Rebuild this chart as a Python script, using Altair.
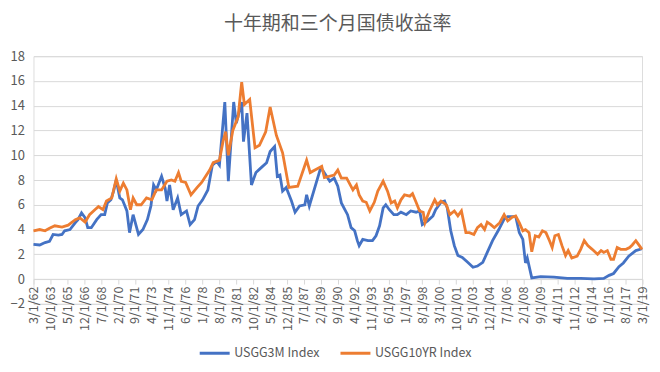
import altair as alt
import pandas as pd

# 3-month yield (USGG3M Index)
m3_dates = ["1962-03","1962-10","1963-04","1963-09","1964-01","1964-07","1964-11","1965-02","1965-08",
    "1966-02","1966-05","1966-09","1967-01","1967-04","1967-08","1968-02","1968-07","1968-11","1969-02",
    "1969-06","1969-09","1969-12","1970-04","1970-07","1970-12","1971-03","1971-07","1972-01","1972-06",
    "1972-11","1973-03","1973-06","1973-09","1974-03","1974-07","1974-09","1974-12","1975-04","1975-09",
    "1976-01","1976-07","1976-11","1977-04","1977-08","1978-01","1978-07","1978-12","1979-05","1979-08",
    "1980-02","1980-06","1980-12","1981-03","1981-09","1981-11","1982-03","1982-08","1983-01","1983-07",
    "1984-01","1984-05","1984-10","1985-01","1985-04","1985-07","1985-11","1986-05","1986-09","1987-02",
    "1987-08","1987-10","1988-01","1989-01","1989-04","1989-12","1990-05","1990-09","1991-01","1991-05",
    "1991-08","1991-12","1992-04","1992-07","1992-09","1993-01","1993-07","1993-12","1994-04","1994-08",
    "1994-12","1995-03","1995-07","1995-12","1996-04","1996-08","1997-02","1997-07","1998-01","1998-05",
    "1998-08","1999-02","1999-08","1999-11","2000-05","2000-09","2000-12","2001-04","2001-08","2001-12",
    "2002-05","2002-11","2003-05","2003-10","2004-04","2004-09","2005-03","2005-10","2006-04","2006-08",
    "2007-01","2007-05","2007-09","2008-01","2008-04","2008-06","2008-11","2009-09","2010-12","2012-03",
    "2013-06","2014-09","2015-08","2016-02","2016-07","2017-01","2017-06","2017-12","2018-08","2019-03"]
m3_values = [2.8,2.75,2.95,3.05,3.6,3.55,3.6,3.9,4.0,
    4.55,4.8,5.35,4.95,4.15,4.15,4.8,5.2,5.2,6.15,
    6.4,7.1,8.0,6.55,6.4,5.5,3.75,5.2,3.6,4.0,
    4.8,5.9,7.6,7.2,8.3,7.35,6.3,7.6,5.6,6.55,
    5.2,5.5,4.4,4.8,5.9,6.4,7.2,9.2,9.5,9.2,
    14.3,7.9,14.3,12.6,14.3,11.1,13.4,7.6,8.6,9.0,
    9.4,10.3,10.7,8.3,8.4,7.1,7.4,6.3,5.4,5.9,
    6.0,6.8,5.9,8.8,8.8,7.9,8.15,7.5,6.15,5.6,
    5.2,4.15,3.9,3.1,2.7,3.2,3.1,3.1,3.5,4.3,
    5.75,6.0,5.6,5.2,5.2,5.4,5.2,5.5,5.4,5.5,
    4.4,4.7,5.1,5.6,6.2,6.3,5.75,3.9,2.7,1.9,
    1.75,1.35,0.95,1.05,1.35,2.15,3.1,4.0,4.85,5.05,
    5.05,5.05,3.75,3.2,1.3,1.7,0.1,0.2,0.15,0.05,
    0.05,0.02,0.05,0.3,0.45,1.0,1.3,1.85,2.3,2.45]

# 10-year yield (USGG10YR Index)
y10_dates = ["1962-03","1962-10","1963-04","1963-09","1964-03","1964-11","1965-06","1966-02","1966-07",
    "1967-01","1967-06","1967-12","1968-04","1968-09","1969-01","1969-07","1969-12","1970-04","1970-08",
    "1970-12","1971-04","1971-07","1971-11","1972-04","1972-10","1973-04","1973-09","1974-03","1974-09",
    "1975-02","1975-06","1975-10","1976-01","1976-06","1976-12","1977-07","1977-12","1978-09","1979-01",
    "1979-08","1979-12","1980-03","1980-06","1980-11","1981-05","1981-09","1981-12","1982-06","1982-12",
    "1983-05","1983-12","1984-05","1984-12","1985-07","1986-02","1986-12","1987-10","1988-02","1989-03",
    "1989-06","1990-05","1990-09","1991-01","1991-07","1991-10","1992-02","1992-06","1992-09","1993-01",
    "1993-05","1993-09","1994-02","1994-06","1994-12","1995-05","1995-09","1996-01","1996-04","1996-08",
    "1996-12","1997-06","1997-09","1998-01","1998-05","1998-09","1998-11","1999-04","1999-10","2000-01",
    "2000-05","2000-11","2001-03","2001-08","2001-12","2002-04","2002-09","2003-01","2003-06","2003-10",
    "2004-02","2004-06","2004-09","2005-01","2005-05","2005-11","2006-04","2006-08","2007-01","2007-05",
    "2007-09","2008-01","2008-04","2008-08","2008-11","2009-03","2009-07","2009-11","2010-03","2010-07",
    "2010-10","2011-01","2011-05","2011-09","2012-01","2012-04","2012-08","2013-02","2013-06","2013-10",
    "2014-02","2014-07","2015-01","2015-05","2015-08","2015-12","2016-04","2016-07","2016-11","2017-03",
    "2017-09","2018-01","2018-04","2018-08","2018-12","2019-03"]
y10_values = [3.9,4.0,3.9,4.1,4.3,4.2,4.35,4.8,4.95,
    4.6,5.2,5.6,5.85,5.6,6.3,6.55,8.1,7.1,7.75,
    7.2,5.6,6.55,6.0,6.0,6.55,6.4,7.2,7.2,7.9,
    8.0,7.9,8.6,7.9,7.8,6.8,7.4,7.8,8.8,9.4,
    9.6,11.1,11.9,10.0,12.0,13.1,15.9,14.1,14.5,10.6,
    10.8,11.9,13.9,11.6,10.2,7.4,7.5,9.6,8.6,9.1,
    8.2,8.4,8.8,8.15,8.15,7.75,7.2,7.6,6.8,6.3,
    6.2,5.5,6.2,7.1,7.9,7.1,6.15,6.3,5.75,6.4,
    6.8,6.7,6.9,6.2,5.5,5.4,4.55,5.5,6.4,6.0,
    6.3,6.0,5.2,5.5,5.1,5.5,3.75,3.75,3.6,4.15,
    4.4,4.0,4.6,4.4,4.15,4.55,5.2,4.7,5.0,5.1,
    4.55,3.9,4.0,3.75,2.2,3.5,3.4,3.9,3.75,3.1,
    2.55,3.5,3.6,2.7,1.9,2.3,1.7,1.85,2.4,3.1,
    2.7,2.4,2.0,2.3,2.15,2.3,1.6,1.6,2.55,2.4,
    2.4,2.55,2.75,3.1,2.7,2.4]

series_names = ["USGG3M Index", "USGG10YR Index"]
series_colors = ["#4472C4", "#ED7D31"]
y_ticks = [-2, 0, 2, 4, 6, 8, 10, 12, 14, 16, 18]

df3 = pd.DataFrame({"date": [d + "-01" for d in m3_dates], "value": m3_values, "series": series_names[0]})
df10 = pd.DataFrame({"date": [d + "-01" for d in y10_dates], "value": y10_values, "series": series_names[1]})

# category labels every 19 months from 3/1/62 to 3/1/19
tick_dates = []
for k in range(37):
    mm = 2 + 19 * k
    tick_dates.append(alt.DateTime(year=1962 + mm // 12, month=mm % 12 + 1, date=1, utc=True))

FONT = "Noto Sans CJK SC"
color_scale = alt.Scale(domain=series_names, range=series_colors)
x_enc = alt.X("date:T",
    scale=alt.Scale(type="utc", domain=[alt.DateTime(year=1962, month=3, date=1, utc=True),
                                        alt.DateTime(year=2019, month=3, date=1, utc=True)], nice=False),
    axis=alt.Axis(values=tick_dates, format="%-m/%-d/%y", labelAngle=270, labelFontSize=12.5,
                  labelColor="#595959", labelFont=FONT, grid=False, offset=-24.8, tickSize=5,
                  tickColor="#D9D9D9", domainColor="#D9D9D9", labelPadding=2, labelOverlap=False,
                  labelFlush=False, title=None))
y_enc = alt.Y("value:Q", scale=alt.Scale(domain=[-2, 18], nice=False, zero=False),
    axis=alt.Axis(values=y_ticks, grid=True, gridColor="#D9D9D9", domain=False, ticks=False,
                  labelColor="#595959", labelFontSize=13, labelFont=FONT, labelPadding=9, title=None))
color_enc = alt.Color("series:N", scale=color_scale, sort=series_names,
    legend=alt.Legend(orient="none", direction="horizontal", legendX=165, legendY=281, title=None,
                      symbolType="stroke", symbolSize=900, symbolStrokeWidth=3, labelFontSize=12.5,
                      labelColor="#595959", labelFont=FONT, columnPadding=14, labelOffset=3, padding=0))

line3 = alt.Chart(df3).mark_line(strokeWidth=2.8).encode(x=x_enc, y=y_enc, color=color_enc)
line10 = alt.Chart(df10).mark_line(strokeWidth=2.8).encode(x=x_enc, y=y_enc, color=color_enc)

chart = alt.layer(line3, line10).properties(
    width=609.5, height=248,
    autosize=alt.AutoSizeParams(type="none"),
    padding={"left": 25.5, "top": 48, "right": 10, "bottom": 60},
    title=alt.TitleParams("十年期和三个月国债收益率", font=FONT, fontSize=19, fontWeight="normal",
                          color="#595959", anchor="middle", offset=16),
).configure_view(stroke=None).configure(background="white")

chart.save("out.html", embed_options={"renderer": "svg", "actions": False})
